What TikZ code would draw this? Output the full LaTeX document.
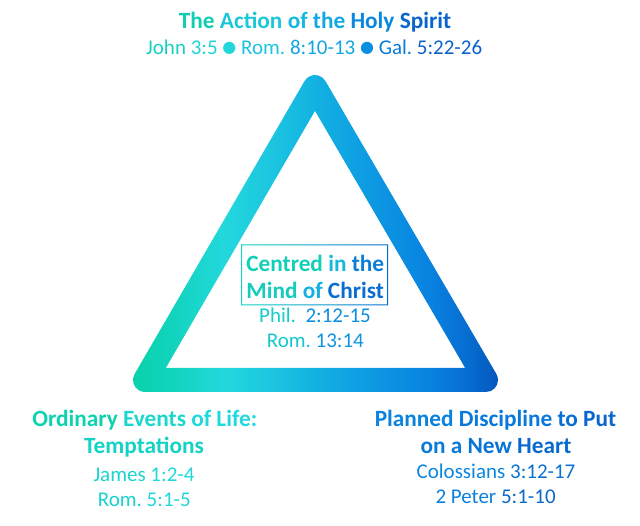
\documentclass[tikz,border=0pt]{standalone}
\usepackage{fontspec}
\setmainfont{Carlito}
\newfontfamily\bulletfont{DejaVu Sans}
\usetikzlibrary{calc}
\frenchspacing
\newcommand\cw[2]{\textcolor[HTML]{#1}{#2}}
\newcommand\blt[1]{{\bulletfont\fontsize{16}{16}\selectfont\raisebox{2.2pt}{\textcolor[HTML]{#1}{●}}}}
\definecolor{s1}{HTML}{08D2AA}
\definecolor{s2}{HTML}{12D4BE}
\definecolor{s3}{HTML}{22D8DC}
\definecolor{s4}{HTML}{1CC6E0}
\definecolor{s5}{HTML}{12B0E2}
\definecolor{s6}{HTML}{0C96E2}
\definecolor{s7}{HTML}{0882E0}
\definecolor{s8}{HTML}{066CD0}
\definecolor{s9}{HTML}{0456BC}
\pgfdeclarehorizontalshading{trishade}{100bp}{color(0bp)=(s1); color(25bp)=(s1); color(30.75bp)=(s2); color(37.6bp)=(s3); color(43.8bp)=(s4); color(50.6bp)=(s5); color(58.8bp)=(s6); color(65.7bp)=(s7); color(71.2bp)=(s8); color(75bp)=(s9); color(100bp)=(s9)}
\begin{document}
\begin{tikzpicture}[x=1pt,y=1pt,
  head/.style={inner sep=0pt, anchor=base, font=\fontsize{23.3}{28}\selectfont\bfseries},
  refs/.style={inner sep=0pt, anchor=base, font=\fontsize{21}{25}\selectfont}]
\useasboundingbox (0,0) rectangle (640,525);
% triangle centre-line vertices
\coordinate (A) at (145,145);
\coordinate (B) at (315,438);
\coordinate (C) at (486,145);
% thick gradient triangle outline (outer with round joins, minus inner)
\shade[shading=trishade, even odd rule]
  ($(A)+(270:12pt)$) -- ($(C)+(270:12pt)$)
  arc[start angle=-90, end angle=30.13, radius=12pt]
  -- ($(B)+(30.13:12pt)$)
  arc[start angle=30.13, end angle=149.87, radius=12pt]
  -- ($(A)+(149.87:12pt)$)
  arc[start angle=149.87, end angle=270, radius=12pt] -- cycle
  (165.8,157) -- (315,414.1) -- (465.2,157) -- cycle;
% title
\node[head] (title) at (315,496) {\cw{12CDB4}{The} \cw{1CC8D8}{Action} \cw{16B8E0}{of} \cw{12A8E2}{the} \cw{0A88DE}{Holy} \cw{0A66CC}{Spirit}};
\node[refs] (titlerefs) at (314.2,470) {\cw{16D0C4}{John} \cw{1CD4D4}{3:5} \blt{22D6DC} \cw{1CC4E0}{Rom.} \cw{12A6E0}{8:10-13} \blt{0A8EE0} \cw{0A7CD8}{Gal.} \cw{0A62C8}{5:22-26}};
% centre box
\shade[left color=s2, right color=s8, even odd rule]
  (241.2,219.5) rectangle (388.2,280.5) (242.2,220.5) rectangle (387.2,279.5);
\node[head] (c1) at (315.2,253.3) {\cw{12D0B8}{Centred} \cw{16B8E0}{in} \cw{0A7ED8}{the}};
\node[head] (c2) at (315.2,226) {\cw{14CCBC}{Mind} \cw{14B0E0}{of} \cw{0A6ED0}{Christ}};
\node[refs] (c3) at (315,202) {\cw{16CCC8}{Phil.}~~\cw{0C8EE0}{2:12-15}};
\node[refs] (c4) at (315.3,177) {\cw{16C8CC}{Rom.} \cw{0E94E0}{13:14}};
% bottom left
\node[head] (l1) at (144.8,98.3) {\cw{0CD2AE}{Ordinary} \cw{1AD6CC}{Events} \cw{20D8DA}{of} \cw{22D8DE}{Life:}};
\node[head] (l2) at (144,71) {\cw{14D2C4}{Temptations}};
\node[refs] (l3) at (144,44) {\cw{18D4CC}{James} \cw{20D8DA}{1:2-4}};
\node[refs] (l4) at (144.3,18.3) {\cw{18D2CC}{Rom.} \cw{20D6DA}{5:1-5}};
% bottom right
\node[head] (r1) at (495.5,98.3) {\cw{0A82E0}{Planned} \cw{0878DC}{Discipline} \cw{0870D4}{to} \cw{0866CC}{Put}};
\node[head] (r2) at (496,71) {\cw{0A7ADA}{on a} \cw{0874D6}{New} \cw{086ACE}{Heart}};
\node[refs] (r3) at (496,46.7) {\cw{0A86E0}{Colossians} \cw{0A72D2}{3:12-17}};
\node[refs] (r4) at (495.6,21.7) {\cw{0A80E0}{2 Peter} \cw{0A68CA}{5:1-10}};
\end{tikzpicture}
\end{document}
